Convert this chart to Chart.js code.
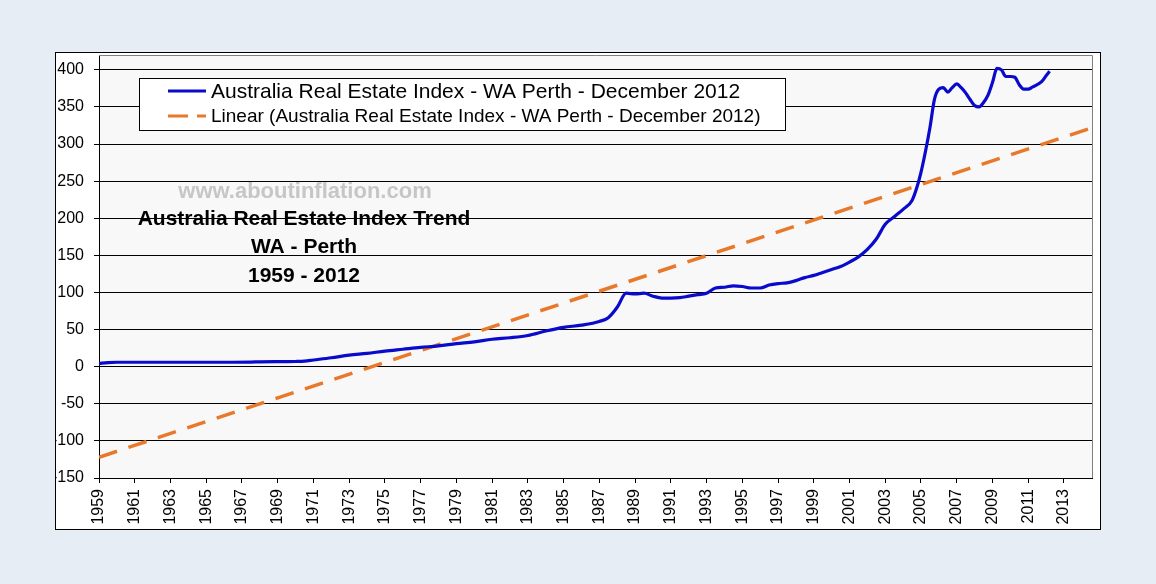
<!DOCTYPE html>
<html>
<head>
<meta charset="utf-8">
<script src="https://cdn.jsdelivr.net/npm/chart.js@4/dist/chart.umd.min.js"></script>
<style>
    body { margin: 0; background: #e7edf5; width: 1156px; height: 584px; overflow: hidden; }
    #box { position: absolute; left: 0; top: 0; width: 1156px; height: 584px; }
</style>
</head>
<body>
<div id="box"><canvas id="perthChart"></canvas></div>
<script>
// Australia Real Estate Index - WA Perth, 1959 - 2012

const indexYears = [
    1959, 1959.5, 1960, 1962, 1964, 1966, 1967.5, 1968, 1970, 1970.5,
    1971, 1972, 1973, 1974, 1975, 1976, 1977, 1978, 1979, 1980,
    1981, 1982, 1983, 1984, 1985, 1986, 1987, 1987.5, 1988, 1988.5,
    1989, 1989.5, 1990, 1990.5, 1991, 1991.5, 1992, 1992.5, 1993, 1993.5,
    1994, 1994.5, 1995, 1995.5, 1996, 1996.5, 1997, 1997.5, 1998, 1998.5,
    1999, 1999.5, 2000, 2000.5, 2001, 2001.5, 2002, 2002.5, 2003, 2003.5,
    2004, 2004.5, 2004.75, 2005, 2005.25, 2005.5, 2005.75, 2006, 2006.25, 2006.5,
    2006.75, 2007, 2007.25, 2007.5, 2007.75, 2008, 2008.25, 2008.5, 2008.75, 2009,
    2009.25, 2009.5, 2009.75, 2010, 2010.25, 2010.5, 2010.75, 2011, 2011.25, 2011.5,
    2011.75, 2012, 2012.2
];
const indexValues = [
    4.5, 5.5, 6, 6, 6, 6, 6.2, 6.5, 7, 7.5,
    9, 12, 15.5, 18, 21, 23.5, 26, 28, 31, 33.5,
    37, 39, 42, 48, 53, 56, 61, 66, 80, 99,
    98, 99, 95, 92.5, 92.5, 93, 95, 97, 99, 106,
    107, 109, 108, 106, 106, 110, 112, 113, 116, 120,
    123, 127, 131, 135, 141, 148, 158, 172, 192, 202,
    212, 224, 240, 262, 290, 322, 360, 374, 376, 370,
    376, 381, 376, 369, 360, 352, 350, 356, 366, 383,
    402, 400, 391, 391, 390, 380, 374, 374, 377, 380,
    384, 392, 398
];

// trendline end points as drawn (Excel linear trend, extended to the plot edge)
const trendYears = [1959, 2014.57];
const trendValues = [-122, 322];

const xTickYears = [1959, 1961, 1963, 1965, 1967, 1969, 1971, 1973, 1975, 1977, 1979, 1981, 1983, 1985,
    1987, 1989, 1991, 1993, 1995, 1997, 1999, 2001, 2003, 2005, 2007, 2009, 2011, 2013];
const yTickValues = [-150, -100, -50, 0, 50, 100, 150, 200, 250, 300, 350, 400];

const seriesLabel = 'Australia Real Estate Index - WA Perth - December 2012';
const trendLabel = 'Linear (Australia Real Estate Index - WA Perth - December 2012)';
const titleLines = ['Australia Real Estate Index Trend', 'WA - Perth', '1959 - 2012'];
const watermark = 'www.aboutinflation.com';

const blue = '#0a0acc';
const orange = '#e8782a';
const fontFamily = '"Liberation Sans", Arial, sans-serif';

const decorPlugin = {
    id: 'decor',
    beforeDraw(chart) {
        const { ctx, chartArea: a } = chart;
        ctx.save();
        ctx.fillStyle = '#e7edf5';
        ctx.fillRect(0, 0, chart.width, chart.height);
        // chart frame
        ctx.fillStyle = '#ffffff';
        ctx.fillRect(55, 52, 1046, 478);
        ctx.strokeStyle = '#000';
        ctx.lineWidth = 1;
        ctx.strokeRect(55.5, 52.5, 1045, 477);
        // plot area
        ctx.fillStyle = '#f8f8f8';
        ctx.fillRect(a.left, a.top, a.right - a.left, a.bottom - a.top);
        ctx.restore();
    },
    beforeDatasetsDraw(chart) {
        const { ctx, chartArea: a } = chart;
        ctx.save();
        ctx.textAlign = 'center';
        ctx.textBaseline = 'middle';
        ctx.font = 'bold 22px ' + fontFamily;
        ctx.fillStyle = '#c6c6c6';
        ctx.fillText(watermark, a.left + 206, a.top + 137);
        ctx.fillStyle = '#000';
        ctx.font = 'bold 21px ' + fontFamily;
        titleLines.forEach((t, i) => {
            ctx.fillText(t, a.left + 205, a.top + 164 + i * 28.5);
        });
        ctx.restore();
    },
    afterDraw(chart) {
        const { ctx, chartArea: a } = chart;
        ctx.save();
        // plot border (top / right)
        ctx.strokeStyle = '#808080';
        ctx.lineWidth = 1;
        ctx.beginPath();
        ctx.moveTo(a.left, a.top + 0.5);
        ctx.lineTo(a.right + 0.5, a.top + 0.5);
        ctx.lineTo(a.right + 0.5, a.bottom);
        ctx.stroke();

        // legend box
        const lx = a.left + 40, ly = a.top + 23;
        ctx.fillStyle = '#ffffff';
        ctx.fillRect(lx, ly, 646, 52);
        ctx.strokeStyle = '#000';
        ctx.strokeRect(lx + 0.5, ly + 0.5, 646, 52);

        ctx.lineWidth = 3;
        ctx.strokeStyle = blue;
        ctx.beginPath();
        ctx.moveTo(a.left + 69, a.top + 36);
        ctx.lineTo(a.left + 107, a.top + 36);
        ctx.stroke();

        ctx.strokeStyle = orange;
        ctx.setLineDash([20, 9]);
        ctx.beginPath();
        ctx.moveTo(a.left + 69, a.top + 61);
        ctx.lineTo(a.left + 107, a.top + 61);
        ctx.stroke();
        ctx.setLineDash([]);

        ctx.fillStyle = '#000';
        ctx.textAlign = 'left';
        ctx.textBaseline = 'middle';
        ctx.font = '21px ' + fontFamily;
        ctx.fillText(seriesLabel, a.left + 112, a.top + 37);
        ctx.font = '19px ' + fontFamily;
        ctx.fillText(trendLabel, a.left + 112, a.top + 62);
        ctx.restore();
    }
};

const ctx = document.getElementById('perthChart').getContext('2d');
const perthChart = new Chart(ctx, {
    type: 'line',
    data: {
        datasets: [
            {
                label: seriesLabel,
                data: indexYears.map((yr, i) => ({ x: yr, y: indexValues[i] })),
                borderColor: blue,
                borderWidth: 3.2,
                pointRadius: 0,
                tension: 0.3,
                cubicInterpolationMode: 'monotone',
                fill: false
            },
            {
                label: trendLabel,
                data: trendYears.map((yr, i) => ({ x: yr, y: trendValues[i] })),
                borderColor: orange,
                borderWidth: 3.5,
                borderDash: [19, 12],
                pointRadius: 0,
                fill: false
            }
        ]
    },
    options: {
        responsive: true,
        maintainAspectRatio: false,
        animation: false,
        layout: {
            padding: { top: 55, right: 64, left: 56, bottom: 55 }
        },
        plugins: {
            legend: { display: false },
            tooltip: { enabled: false }
        },
        scales: {
            x: {
                type: 'linear',
                min: 1959,
                max: 2014.57,
                afterBuildTicks: (scale) => {
                    scale.ticks = xTickYears.map(v => ({ value: v }));
                },
                afterFit: (scale) => {
                    scale.height = 51;
                    scale.paddingLeft = 0;
                    scale.paddingRight = 0;
                },
                border: { color: '#000', width: 1 },
                grid: {
                    drawOnChartArea: false,
                    drawTicks: true,
                    tickLength: 5,
                    color: '#000'
                },
                ticks: {
                    color: '#000',
                    minRotation: 90,
                    maxRotation: 90,
                    padding: 6,
                    autoSkip: false,
                    font: { family: fontFamily, size: 16 },
                    callback: (v) => String(v)
                }
            },
            y: {
                min: -150,
                max: 420,
                afterBuildTicks: (scale) => {
                    scale.ticks = yTickValues.map(v => ({ value: v }));
                },
                afterFit: (scale) => {
                    scale.width = 43;
                    scale.paddingTop = 0;
                    scale.paddingBottom = 0;
                },
                border: { color: '#000', width: 1 },
                grid: {
                    color: '#000',
                    lineWidth: 1,
                    drawTicks: true,
                    tickLength: 5
                },
                ticks: {
                    color: '#000',
                    padding: 10,
                    font: { family: fontFamily, size: 16 }
                }
            }
        }
    },
    plugins: [decorPlugin]
});
</script>
</body>
</html>
